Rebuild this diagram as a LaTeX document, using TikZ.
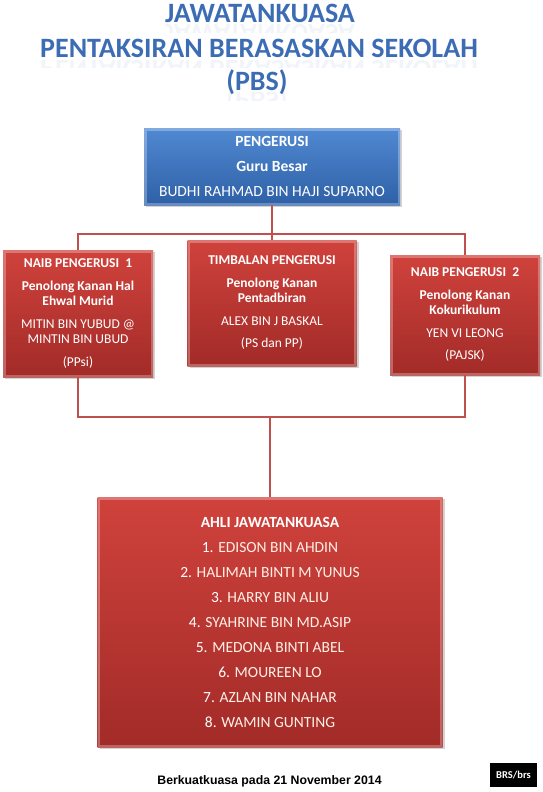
\documentclass[tikz,border=0pt]{standalone}
\usepackage{fontspec}
\setmainfont{Carlito}
\newfontfamily\arialfont{Liberation Sans}
\usepackage{xcolor}
\usepackage{tikz}
\usetikzlibrary{positioning, calc, shadows}
\definecolor{cJudul}{HTML}{3C6DB4}
\definecolor{cBiruA}{HTML}{5089D2}
\definecolor{cBiruB}{HTML}{2E60A6}
\definecolor{cMerahA}{HTML}{D0423C}
\definecolor{cMerahB}{HTML}{A22B28}
\definecolor{cGaris}{HTML}{C0504D}
\definecolor{cNama}{HTML}{FFF0E6}

\tikzset{
  kotak/.style={draw=none, text=white, align=center, inner sep=0pt,
    drop shadow={shadow xshift=2pt, shadow yshift=-2pt, opacity=.35},
    path picture={\draw[white, opacity=.28, line width=5pt]
      (path picture bounding box.south west) rectangle (path picture bounding box.north east);}},
  kotakbiru/.style={kotak, top color=cBiruA, bottom color=cBiruB,
    font=\fontsize{15.5}{18}\selectfont},
  kotakmerah/.style={kotak, top color=cMerahA, bottom color=cMerahB,
    font=\fontsize{13.5}{15.5}\selectfont},
  judul/.style={anchor=base, text=cJudul, font=\fontsize{28}{30}\selectfont\bfseries, inner sep=0pt},
  bayang/.style={judul, opacity=.07},
  garis/.style={draw=cGaris, line width=1.8pt},
}

\begin{document}
\begin{tikzpicture}[x=1pt, y=-1pt]
\useasboundingbox (0,0) rectangle (543,792);

% tajuk
\node[judul] (tajuksatu) at (260,23) {JAWATANKUASA};
\node[judul] (tajukdua) at (259,58) {PENTAKSIRAN BERASASKAN SEKOLAH};
\node[judul] (tajuktiga) at (257,90) {(PBS)};
\begin{scope}
  \clip (0,25) rectangle (543,33);
  \node[bayang] at (260,25) {\scalebox{1}[-1]{JAWATANKUASA}};
\end{scope}
\begin{scope}
  \clip (0,60) rectangle (543,68);
  \node[bayang] at (259,60) {\scalebox{1}[-1]{PENTAKSIRAN BERASASKAN SEKOLAH}};
\end{scope}
\begin{scope}
  \clip (0,92) rectangle (543,100);
  \node[bayang] at (257,92) {\scalebox{1}[-1]{(PBS)}};
\end{scope}

% kotak
\node[kotakbiru, minimum width=256pt, minimum height=77pt] (pengerusi) at (272,166.5)
  {\textbf{PENGERUSI}\\[7pt] \textbf{Guru Besar}\\[7pt] BUDHI RAHMAD BIN HAJI SUPARNO};

\node[kotakmerah, minimum width=150pt, minimum height=127pt] (naibsatu) at (78,313.5)
  {\textbf{NAIB PENGERUSI\ \ 1}\\[7pt] \textbf{Penolong Kanan Hal}\\ \textbf{Ehwal Murid}\\[7pt]
   MITIN BIN YUBUD @\\ MINTIN BIN UBUD\\[7pt] (PPsi)};

\node[kotakmerah, minimum width=169pt, minimum height=126pt] (timbalan) at (272,303)
  {\textbf{TIMBALAN PENGERUSI}\\[7pt] \textbf{Penolong Kanan}\\ \textbf{Pentadbiran}\\[7pt]
   ALEX BIN J BASKAL\\[7pt] (PS dan PP)};

\node[kotakmerah, minimum width=150pt, minimum height=120pt] (naibdua) at (465,315)
  {\textbf{NAIB PENGERUSI\ \ 2}\\[7pt] \textbf{Penolong Kanan}\\ \textbf{Kokurikulum}\\[7pt]
   YEN VI LEONG\\[7pt] (PAJSK)};

\node[kotakmerah, minimum width=345pt, minimum height=250pt,
      font=\fontsize{15.5}{25}\selectfont] (ahli) at (270,622)
  {\textbf{AHLI JAWATANKUASA}\\
   1. \textcolor{cNama}{EDISON BIN AHDIN}\\
   2. \textcolor{cNama}{HALIMAH BINTI M YUNUS}\\
   3. \textcolor{cNama}{HARRY BIN ALIU}\\
   4. \textcolor{cNama}{SYAHRINE BIN MD.ASIP}\\
   5. \textcolor{cNama}{MEDONA BINTI ABEL}\\
   6. \textcolor{cNama}{MOUREEN LO}\\
   7. \textcolor{cNama}{AZLAN BIN NAHAR}\\
   8. \textcolor{cNama}{WAMIN GUNTING}};

% garis penghubung
\coordinate (atas) at ($(pengerusi.south)+(0,29)$);
\coordinate (bawah) at ($(ahli.north)+(0,-80)$);
\draw[garis] (pengerusi.south) -- (atas);
\draw[garis] (naibsatu.north) |- (atas) -| (naibdua.north);
\draw[garis] (atas) -- (timbalan.north);
\draw[garis] (naibsatu.south) |- (bawah) -| (naibdua.south);
\draw[garis] (bawah) -- (ahli.north);

% kaki
\node[anchor=base, inner sep=0pt, font=\arialfont\bfseries\fontsize{12.3}{14}\selectfont] (tarikh) at (269.5,784)
  {Berkuatkuasa pada 21 November 2014};
\node[fill=black, text=white, font=\fontsize{10.5}{12}\selectfont\bfseries, minimum width=47pt,
      minimum height=24pt, inner sep=0pt] (brs) at (513.5,775) {BRS/brs};
\end{tikzpicture}
\end{document}
